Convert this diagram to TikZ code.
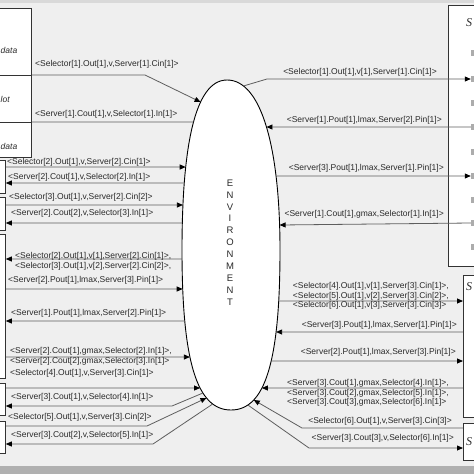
\documentclass[tikz,border=0pt]{standalone}
\usepackage{fontspec}
\setmainfont{Liberation Sans}
\newfontfamily\serifit{Liberation Serif}
\usetikzlibrary{arrows.meta,intersections}
\definecolor{bg}{HTML}{EFEFEF}
\definecolor{ln}{HTML}{5E5E5E}
\definecolor{tx}{HTML}{2A2A2A}
\newcommand\edgeat[1]{%
  \path[name path=hl#1] (140,#1) -- (228,#1);
  \path[name path=hr#1] (228,#1) -- (330,#1);
  \path[name intersections={of=envp and hl#1, by={eL#1}}];
  \path[name intersections={of=envp and hr#1, by={eR#1}}];}
\begin{document}
\begin{tikzpicture}[x=1pt,y=-1pt,
  conn/.style={draw=ln, line width=0.8pt},
  arr/.style={conn, -{Triangle[length=6pt,width=5pt,color=black]}},
  lbl/.style={font=\fontsize{8.5}{9.6}\selectfont, text=tx, inner sep=0pt},
  lblit/.style={font=\fontsize{8.5}{9.6}\selectfont\itshape, text=tx, inner sep=0pt},
  blk/.style={draw=black!80, fill=white, line width=0.8pt, inner sep=0pt},
  port/.style={fill=gray!65, draw=none, minimum width=4pt, minimum height=6pt, inner sep=0pt},
  sname/.style={font=\fontsize{12}{12}\serifit\itshape, text=tx, inner sep=0pt, anchor=west},
]
\useasboundingbox (0,0) rectangle (474,474);
\fill[bg] (0,0) rectangle (474,474);
\fill[gray!30] (0,0) rectangle (474,3);
\fill[gray!62] (0,466) rectangle (474,474);

% left blocks
\node[blk, minimum width=34pt, minimum height=149pt, anchor=north west] (TL) at (-3,8) {};
\draw[blk] (TL.west |- 0,75) -- (TL.east |- 0,75);
\draw[blk] (TL.west |- 0,122) -- (TL.east |- 0,122);
\node[lblit, anchor=west] (t1) at (0.5,50) {data};
\node[lblit, anchor=west] (t2) at (0.5,99) {lot};
\node[lblit, anchor=west] (t3) at (0.5,146) {data};
\node[blk, minimum width=8pt, minimum height=33pt, anchor=north west] (L1) at (-3,160) {};
\node[blk, minimum width=8pt, minimum height=33pt, anchor=north west] (L2) at (-3,197) {};
\node[blk, minimum width=8pt, minimum height=144pt, anchor=north west] (L3) at (-3,234) {};
\node[blk, minimum width=8pt, minimum height=32pt, anchor=north west] (L4) at (-3,383) {};
\node[blk, minimum width=8pt, minimum height=32pt, anchor=north west] (L5) at (-3,421) {};

% right blocks
\node[blk, minimum width=40pt, minimum height=261pt, anchor=north west] (R1) at (448,5) {};
\node[blk, minimum width=20pt, minimum height=142pt, anchor=north west] (R2) at (463,275) {};
\node[blk, minimum width=20pt, minimum height=37pt, anchor=north west] (R3) at (463,423) {};
\node[sname] (s1) at (466,23) {S};
\node[sname] (s2) at (466,287) {S};
\node[sname] (s3) at (466,442) {S};
\foreach \yy/\nm in {53/P1,79/P2,103/P3,127/P4,152/P5,176/P6,200/P7,223/P8,247/P9}
  \node[port] (\nm) at (473,\yy) {};

% environment
\path[name path=envp, draw=black, line width=0.9pt, fill=white]
  (227,80) .. controls (262,80) and (280,150) .. (280,250)
  .. controls (280,362) and (265,410) .. (231,410)
  .. controls (197,410) and (182,362) .. (182,250)
  .. controls (182,150) and (194,80) .. (227,80) -- cycle;
\node[font=\fontsize{9.5}{11.9}\selectfont, text=tx, align=center, inner sep=0pt] (env) at (230,242.5)
  {E\\N\\V\\I\\R\\O\\N\\M\\E\\N\\T};
\foreach \yy in {86,102,122,127,167,176,183,205,223,225,259,289,301,321,332,357,361,388,393,398,400,404,405}
  {\edgeat{\yy}}

% left connectors
\draw[arr] (TL.east |- 0,75) -- (145,75) -- (eL102);
\draw[conn] (eL122) -- (TL.east |- 0,122);
\draw[arr] (L1.east |- 0,167) -- (eL167);
\draw[arr] (eL183) -- (L1.east |- 0,183);
\draw[arr] (L2.east |- 0,205) -- (eL205);
\draw[arr] (eL223) -- (L2.east |- 0,223);
\draw[arr] (eL259) -- (L3.east |- 0,259);
\draw[arr] (L3.east |- 0,289) -- (eL289);
\draw[arr] (eL321) -- (L3.east |- 0,321);
\draw[arr] (L3.east |- 0,357) -- (eL357);
\draw[arr] (L4.east |- 0,388) -- (eL388);
\draw[arr] (eL393) -- (172,406) -- (L4.east |- 0,406);
\draw[arr] (L5.east |- 0,426) -- (147,426) -- (eL398);
\draw[arr] (eL404) -- (153,444) -- (L5.east |- 0,444);

% right connectors
\draw[arr] (eR86) -- (267,79) -- (P2.west);
\draw[arr] (P4.west) -- (eR127);
\draw[arr] (eR176) -- (P6.west);
\draw[arr] (P8.west) -- (eR225);
\draw[arr] (eR301) -- (R2.west |- 0,301);
\draw[arr] (R2.west |- 0,332) -- (eR332);
\draw[arr] (eR361) -- (R2.west |- 0,361);
\draw[arr] (R2.west |- 0,388) -- (eR388);
\draw[arr] (R3.west |- 0,428) -- (302,428) -- (eR400);
\draw[arr] (eR405) -- (309,448) -- (R3.west |- 0,448);

% left labels
\node[lbl, anchor=west] (a1) at (35,64) {<Selector[1].Out[1],v,Server[1].Cin[1]>};
\node[lbl, anchor=west] (a2) at (35,114) {<Server[1].Cout[1],v,Selector[1].In[1]>};
\node[lbl, anchor=west] (a3) at (7,162) {<Selector[2].Out[1],v,Server[2].Cin[1]>};
\node[lbl, anchor=west] (a4) at (8,177) {<Server[2].Cout[1],v,Selector[2].In[1]>};
\node[lbl, anchor=west] (a5) at (9,197) {<Selector[3].Out[1],v,Server[2].Cin[2]>};
\node[lbl, anchor=west] (a6) at (11,213) {<Server[2].Cout[2],v,Selector[3].In[1]>};
\node[lbl, anchor=west, align=left] (a7) at (15,261)
  {<Selector[2].Out[1],v[1],Server[2].Cin[1]>,\\<Selector[3].Out[1],v[2],Server[2].Cin[2]>,};
\node[lbl, anchor=west] (a8) at (8,280) {<Server[2].Pout[1],lmax,Server[3].Pin[1]>};
\node[lbl, anchor=west] (a9) at (11,313) {<Server[1].Pout[1],lmax,Server[2].Pin[1]>};
\node[lbl, anchor=west, align=left] (a10) at (10,356.5)
  {<Server[2].Cout[1],gmax,Selector[2].In[1]>,\\<Server[2].Cout[2],gmax,Selector[3].In[1]>};
\node[lbl, anchor=west] (a11) at (10,373) {<Selector[4].Out[1],v,Server[3].Cin[1]>};
\node[lbl, anchor=west] (a12) at (11,397) {<Server[3].Cout[1],v,Selector[4].In[1]>};
\node[lbl, anchor=west] (a13) at (8,417) {<Selector[5].Out[1],v,Server[3].Cin[2]>};
\node[lbl, anchor=west] (a14) at (11,435) {<Server[3].Cout[2],v,Selector[5].In[1]>};

% right labels
\node[lbl, anchor=east] (b1) at (437,72) {<Selector[1].Out[1],v[1],Server[1].Cin[1]>};
\node[lbl, anchor=east] (b2) at (442,120) {<Server[1].Pout[1],lmax,Server[2].Pin[1]>};
\node[lbl, anchor=east] (b3) at (444,168) {<Server[3].Pout[1],lmax,Server[1].Pin[1]>};
\node[lbl, anchor=east] (b4) at (444,214) {<Server[1].Cout[1],gmax,Selector[1].In[1]>};
\node[lbl, anchor=east, align=left] (b5) at (449,296)
  {<Selector[4].Out[1],v[1],Server[3].Cin[1]>,\\<Selector[5].Out[1],v[2],Server[3].Cin[2]>,\\<Selector[6].Out[1],v[3],Server[3].Cin[3]>};
\node[lbl, anchor=east] (b6) at (457,325) {<Server[3].Pout[1],lmax,Server[1].Pin[1]>};
\node[lbl, anchor=east] (b7) at (456,352) {<Server[2].Pout[1],lmax,Server[3].Pin[1]>};
\node[lbl, anchor=east, align=left] (b8) at (449,393)
  {<Server[3].Cout[1],gmax,Selector[4].In[1]>,\\<Server[3].Cout[2],gmax,Selector[5].In[1]>,\\<Server[3].Cout[3],gmax,Selector[6].In[1]>};
\node[lbl, anchor=east] (b9) at (452,421) {<Selector[6].Out[1],v,Server[3].Cin[3]>};
\node[lbl, anchor=east] (b10) at (454,438) {<Server[3].Cout[3],v,Selector[6].In[1]>};
\end{tikzpicture}
\end{document}
